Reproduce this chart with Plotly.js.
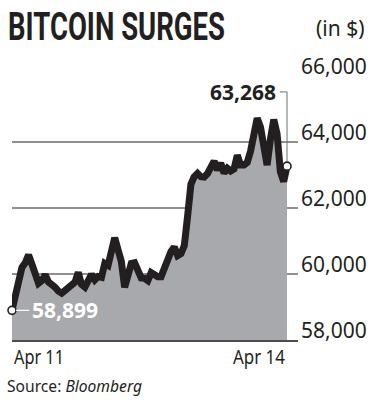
<!DOCTYPE html>
<html>
<head>
<meta charset="utf-8">
<script src="https://cdn.plot.ly/plotly-3.0.1.min.js"></script>
<style>html,body{margin:0;padding:0;background:#fff}#chart{width:373px;height:400px}</style>
</head>
<body>
<div id="chart"></div>
<script>
// Bitcoin price (in $), evenly spaced readings from Apr 11 to Apr 14
const prices = [
  58899, 59400, 59880, 60200, 60340, 60580, 60300, 59950, 59720, 59800,
  59980, 59760, 59690, 59600, 59480, 59420, 59500, 59580, 59640, 59750,
  60050, 59680, 59600, 59770, 59990, 59820, 59920, 59900, 60320, 60260,
  60600, 61100, 60740, 60380, 59600, 60040, 60320, 60340, 60040, 59880,
  59870, 59800, 60040, 59970, 59920, 59920, 60150, 60500, 60680, 60820,
  60560, 60620, 60860, 61750, 62720, 62950, 63050, 62950, 62940, 63040,
  63200, 63420, 63150, 63360, 63060, 63200, 63120, 63180, 63600, 63300,
  63300, 63380, 63720, 64250, 64720, 64450, 63980, 63300, 64080, 64680,
  64250, 63100, 62800, 63268
];
const startLabel = "58,899";
const endLabel = "63,268";
const dateLabels = ["Apr 11", "Apr 14"];
const yTicks = [58000, 60000, 62000, 64000, 66000];
const yTickText = ["58,000", "60,000", "62,000", "64,000", "66,000"];
const titleText = "BITCOIN SURGES";
const unitText = "(in $)";
const sourcePrefix = "Source: ";
const sourceName = "Bloomberg";

const idx = prices.map((_, i) => i);
const last = prices.length - 1;
const xMax = last * 286 / 275;
const labelTop = prices[last] + 2250;

const body = "Noto Sans, Roboto, sans-serif";
const ink = "#231f20";
const plotH = 264;   // plot area height in px (for paper-relative text placement)

const traces = [
  {
    x: idx, y: prices, type: "scatter", mode: "lines",
    line: {color: ink, width: 7, shape: "linear"},
    fill: "tozeroy", fillcolor: "#a7a9ac",
    hoverinfo: "skip"
  },
  {
    x: [0, last], y: [prices[0], prices[last]], type: "scatter", mode: "markers",
    marker: {symbol: "circle", size: 8, color: "#ffffff", line: {color: ink, width: 1.6}},
    cliponaxis: false, hoverinfo: "skip"
  }
];

const layout = {
  width: 373, height: 400,
  margin: {l: 12, r: 75, t: 76, b: 60, pad: 0},
  paper_bgcolor: "#ffffff", plot_bgcolor: "#ffffff",
  showlegend: false,
  title: {
    text: titleText, xref: "container", yref: "container",
    x: 8 / 373, xanchor: "left", y: 1 - 26 / 400, yanchor: "middle",
    font: {family: "Roboto, Noto Sans, sans-serif", size: 39, weight: 700, color: ink}
  },
  xaxis: {
    range: [0, xMax], showgrid: false, zeroline: false,
    showticklabels: false, ticks: "",
    showline: true, linecolor: "#4d4d4d", linewidth: 1.5
  },
  yaxis: {
    range: [58000, 66000], side: "right",
    tickvals: yTicks, ticktext: yTickText,
    showgrid: true, gridcolor: "#8f8f8f", gridwidth: 1.5,
    zeroline: false, showline: false, ticks: "",
    ticklabelstandoff: 2, ticklabelshift: -9,
    tickfont: {family: body, size: 21, color: ink}
  },
  shapes: [
    {type: "line", xref: "x", yref: "y", x0: last, x1: last, y0: prices[last] + 150, y1: labelTop,
     line: {color: "#6d6e71", width: 1}},
    {type: "line", xref: "x", yref: "y", x0: last, x1: last - 2.2, y0: labelTop, y1: labelTop,
     line: {color: "#6d6e71", width: 1}},
    {type: "line", xref: "x", yref: "y", x0: 1.2, x1: 5.2, y0: prices[0], y1: prices[0],
     line: {color: "#ffffff", width: 1.2}}
  ],
  annotations: [
    {text: "<b>" + endLabel + "</b>", x: last - 2.6, y: labelTop, xref: "x", yref: "y",
     xanchor: "right", yanchor: "middle", showarrow: false,
     font: {family: body, size: 21, color: ink}},
    {text: "<b>" + startLabel + "</b>", x: 5.4, y: prices[0], xref: "x", yref: "y",
     xanchor: "left", yanchor: "middle", showarrow: false,
     font: {family: body, size: 21, color: "#ffffff"}},
    {text: dateLabels[0], x: 0, y: 0, xref: "x", yref: "paper",
     xanchor: "left", yanchor: "top", yshift: -1, showarrow: false,
     font: {family: body, size: 20, color: ink}},
    {text: dateLabels[1], x: last, y: 0, xref: "x", yref: "paper",
     xanchor: "right", yanchor: "top", yshift: -1, showarrow: false,
     font: {family: body, size: 20, color: ink}},
    {text: unitText, x: 1, y: (340 - 28) / plotH, xref: "paper", yref: "paper",
     xanchor: "left", yanchor: "middle", xshift: 16, showarrow: false,
     font: {family: body, size: 21, color: ink}},
    {text: sourcePrefix + "<i>" + sourceName + "</i>", x: 0, y: (340 - 385) / plotH, xref: "paper", yref: "paper",
     xanchor: "left", yanchor: "middle", xshift: -7, showarrow: false,
     font: {family: body, size: 17, color: ink}}
  ]
};

// condensed look: squeeze some texts to the reference widths (still real SVG text)
const squeeze = {};
squeeze[titleText] = {w: 217, keep: "left"};
squeeze[dateLabels[0]] = {w: 50, keep: "left"};
squeeze[dateLabels[1]] = {w: 52, keep: "right"};
squeeze[sourcePrefix + sourceName] = {w: 135, keep: "left"};

Plotly.newPlot("chart", traces, layout, {staticPlot: true, displayModeBar: false}).then(gd => {
  gd.querySelectorAll("text").forEach(t => {
    const s = squeeze[t.textContent];
    if (!s) return;
    const bb = t.getBBox();
    const nx = s.keep === "left" ? bb.x : bb.x + bb.width - s.w;
    t.setAttribute("text-anchor", "start");
    t.setAttribute("x", nx);
    t.querySelectorAll("tspan[x]").forEach(sp => sp.setAttribute("x", nx));
    t.setAttribute("textLength", s.w);
    t.setAttribute("lengthAdjust", "spacingAndGlyphs");
  });
});
</script>
</body>
</html>
